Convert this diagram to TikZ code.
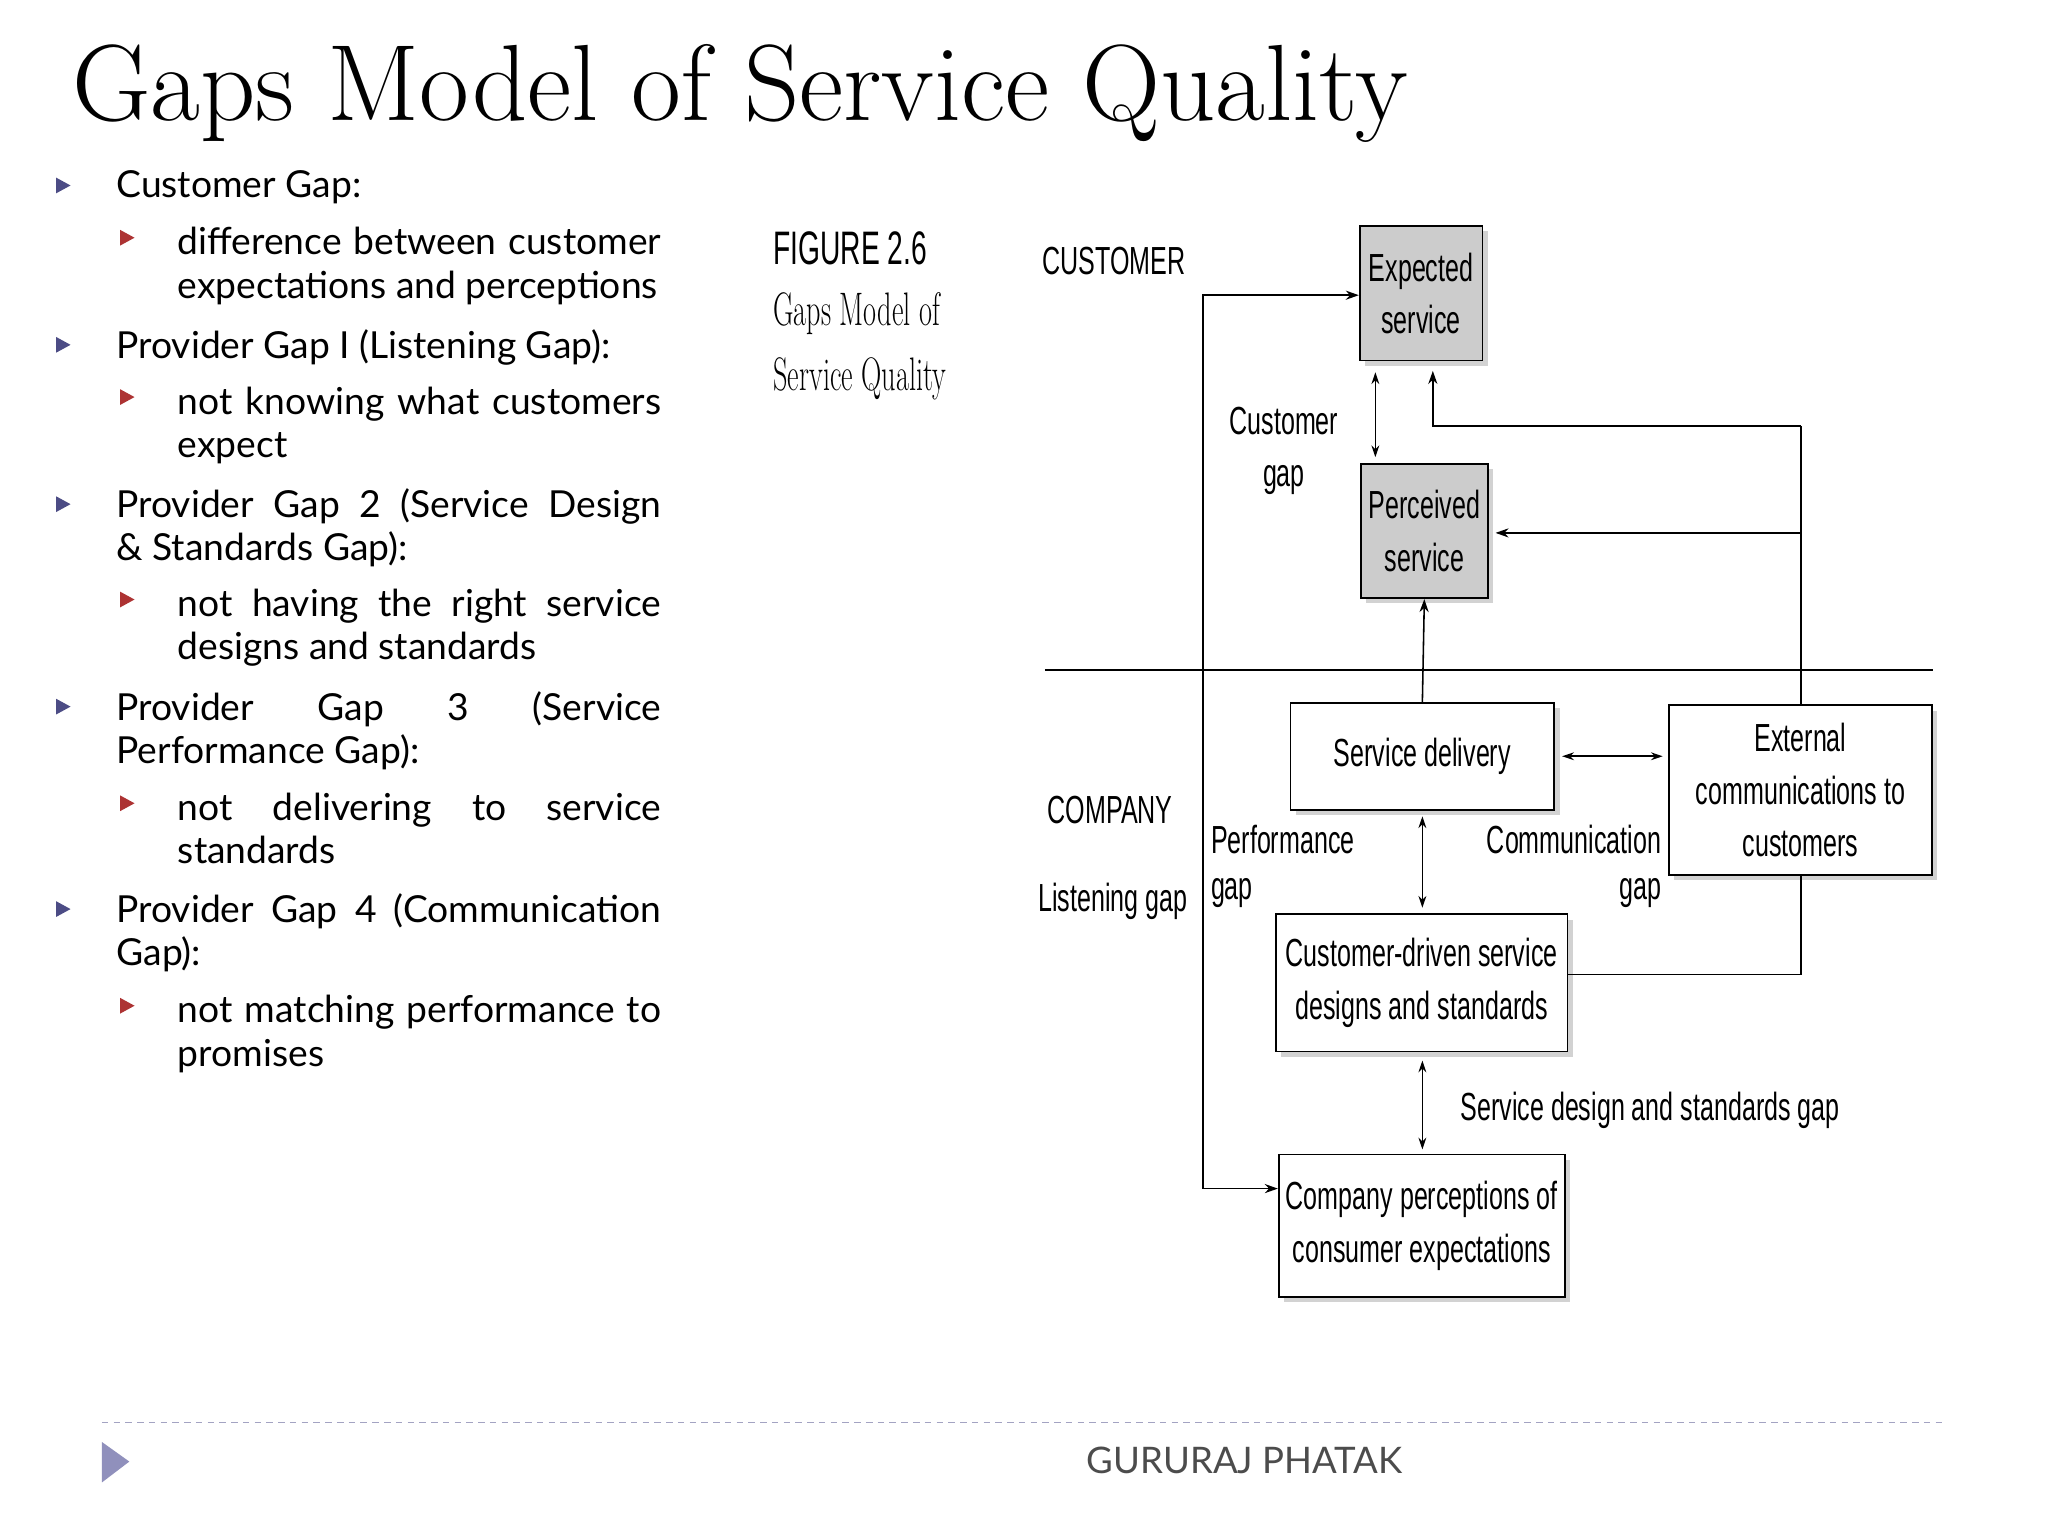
\documentclass[tikz,border=0pt]{standalone}
\usepackage{fontspec}
\setmainfont{Latin Modern Roman}
\newfontfamily\bul{Lato}
\newfontfamily\cond[FakeStretch=0.64]{Liberation Sans}
\usetikzlibrary{arrows.meta,shadows}
\begin{document}
\begin{tikzpicture}[x=1pt,y=-1pt,
 bx/.style={draw=black,line width=1.3pt,fill=white,drop shadow={shadow xshift=4pt,shadow yshift=-4pt,fill=black!35},align=center,font=\cond\fontsize{30}{40}\selectfont,inner sep=0pt},
 gbx/.style={bx,fill=black!20},
 lbl/.style={font=\cond\fontsize{30}{40}\selectfont,inner sep=0pt,align=center},
 ln/.style={line width=1.2pt},
 ar/.style={ln,-{Stealth[length=10pt,width=7pt]}},
 dar/.style={ln,{Stealth[length=9pt,width=6pt]}-{Stealth[length=9pt,width=6pt]}},
 t1/.style={anchor=north west,inner sep=0pt,text width=417pt,align=justify,font=\bul\fontsize{28.5}{33}\selectfont},
 t2/.style={t1,text width=370pt},
]
\useasboundingbox (0,0) rectangle (1568,1176);
\fill[white] (0,0) rectangle (1568,1176);
\node[anchor=base west,inner sep=0pt,font=\fontsize{83}{86}\selectfont] (title) at (55,92) {Gaps Model of Service Quality};
% bullets
\foreach \y in {143,265,387,542,697} {\fill[black!45!blue!40!gray] (43,\y-7) -- (54,\y-1) -- (43,\y+5) -- cycle;}
\foreach \y in {183,305,460,616,771} {\fill[red!60!black!80] (92,\y-7) -- (103,\y-1) -- (92,\y+5) -- cycle;}
\node[t1] (b1) at (89,130) {Customer Gap:};
\node[t2] (b2) at (136,174) {difference between customer\linebreak expectations and perceptions};
\node[t1] (b3) at (89,252) {Provider Gap I (Listening Gap):};
\node[t2] (b4) at (136,296) {not knowing what customers\linebreak expect};
\node[t1] (b5) at (89,374) {Provider Gap 2 (Service Design\linebreak \& Standards Gap):};
\node[t2] (b6) at (136,451) {not having the right service\linebreak designs and standards};
\node[t1] (b7) at (89,529) {Provider Gap 3 (Service\linebreak Performance Gap):};
\node[t2] (b8) at (136,607) {not delivering to service\linebreak standards};
\node[t1] (b9) at (89,684) {Provider Gap 4 (Communication\linebreak Gap):};
\node[t2] (b10) at (136,762) {not matching performance to\linebreak promises};
% figure caption
\node[anchor=west,inner sep=0pt,font=\cond\fontsize{36}{40}\selectfont\addfontfeatures{FakeStretch=0.6}] (fig) at (592,190) {FIGURE 2.6};
\node[anchor=west,inner sep=0pt,font=\fontsize{36}{40}\selectfont\addfontfeatures{FakeStretch=0.6}] (fig2) at (592,240) {Gaps Model of};
\node[anchor=west,inner sep=0pt,font=\fontsize{36}{40}\selectfont\addfontfeatures{FakeStretch=0.6}] (fig3) at (592,290) {Service Quality};
% diagram
\node[lbl] (cust) at (853,200) {CUSTOMER};
\node[gbx,minimum width=94pt,minimum height=103pt] (exp) at (1088,224.5) {Expected\\service};
\node[gbx,minimum width=97pt,minimum height=103pt] (per) at (1090.5,406.5) {Perceived\\service};
\node[lbl] (cg) at (983,345) {Customer\\gap};
\draw[dar] (1053,285) -- (1053,350);
\coordinate (r1) at (1379,326);
\coordinate (r2) at (1379,408);
\draw[ar] (r1) -- (1097,326) -- (1097,284);
\draw[ar] (r2) -- (1145,408);
\draw[ln] (1379,326) -- (1379,540);
\draw[ln] (800,513) -- (1480,513);
\node[bx,minimum width=202pt,minimum height=82pt] (sd) at (1089,579) {Service delivery};
\node[bx,minimum width=201pt,minimum height=130pt] (ext) at (1378.5,605) {External\\communications to\\customers};
\draw[ar] (sd.north) -- (per.south);
\draw[dar] (1196,579) -- (1273,579);
\node[lbl,anchor=west] (pg1) at (927,643) {Performance};
\node[lbl,anchor=west] (pg2) at (927,684) {gap};
\node[lbl,anchor=east] (cm1) at (1272,643) {Communication};
\node[lbl,anchor=east] (cm2) at (1272,684) {gap};
\draw[dar] (1089,625) -- (1089,695);
\node[bx,minimum width=223pt,minimum height=105pt] (cd) at (1088.5,752.5) {Customer-driven service\\designs and standards};
\draw[ln] (cd.east |- 0,746) -- (1379,746) -- (1379,670);
\node[lbl] (co) at (850,620) {COMPANY};
\node[lbl] (lg) at (852,690) {Listening gap};
\draw[dar] (1089,812) -- (1089,880);
\node[lbl,anchor=west] (sg) at (1118,850) {Service design and standards gap};
\node[bx,minimum width=219pt,minimum height=109pt] (cp) at (1088.5,938.5) {Company perceptions of\\consumer expectations};
\draw[ar] (921,910) -- (921,226) -- (exp.west |- 0,226);
\draw[ar] (921,910) -- (cp.west |- 0,910);
% footer
\draw[line width=1pt,color=blue!20!gray!60,dash pattern=on 5pt off 4pt] (78,1089) -- (1490,1089);
\fill[blue!25!gray!70] (78,1104) -- (99,1119) -- (78,1135) -- cycle;
\node[font=\bul\fontsize{28}{30}\selectfont,text=black!70] (ft) at (953,1118) {GURURAJ PHATAK};
\end{tikzpicture}
\end{document}
